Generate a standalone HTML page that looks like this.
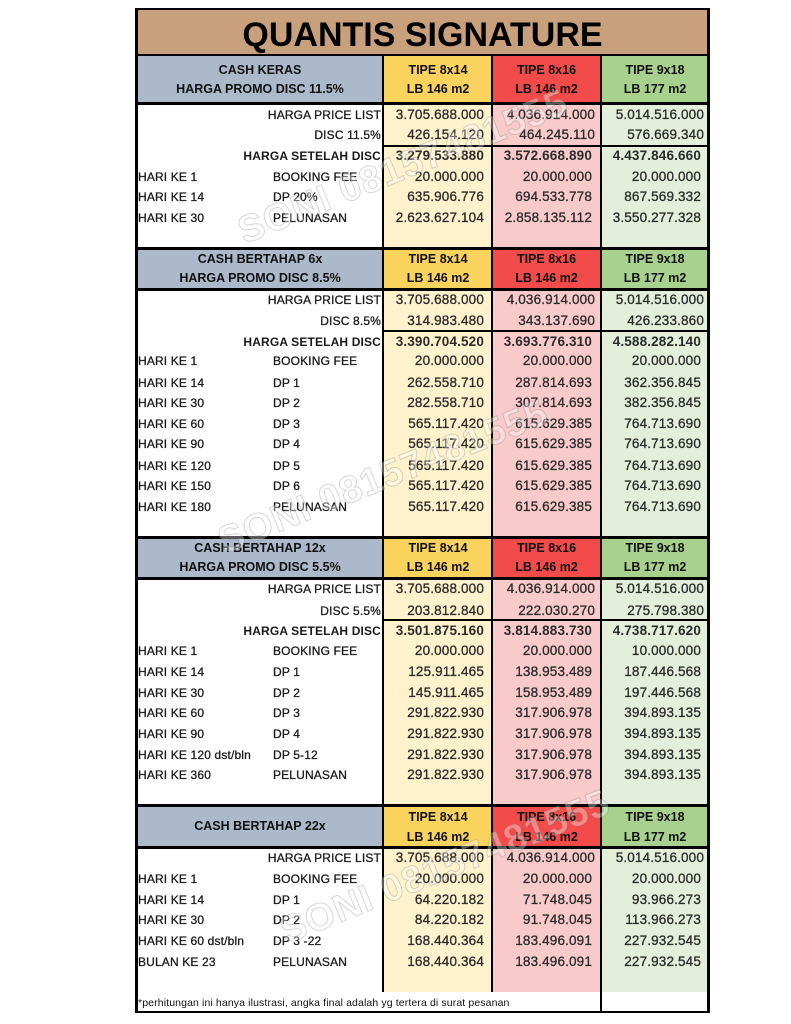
<!DOCTYPE html>
<html><head><meta charset="utf-8">
<style>
html,body{margin:0;padding:0;background:#fff;}
#c{position:relative;width:791px;height:1024px;overflow:hidden;background:#fff;font-family:"Liberation Sans",Arial,sans-serif;}
.a{position:absolute;}
.k{position:absolute;background:#000;}
.t{position:absolute;white-space:nowrap;height:20px;line-height:20px;}
.l{font-size:12px;color:#1a1a1a;letter-spacing:0.15px;-webkit-text-stroke:0.3px #1a1a1a;}
.l1{left:138px;}
.l2{left:273px;}
.lr{left:136px;width:245px;text-align:right;}
.v{font-size:13.5px;color:#2b2b2b;text-align:right;letter-spacing:0.15px;-webkit-text-stroke:0.3px #2b2b2b;}
.y{left:384px;width:100px;}
.r{left:492px;width:100px;}
.r2{left:492px;width:103px;}
.g{left:601px;width:100px;}
.g2{left:601px;width:103px;}
.b{font-weight:bold;-webkit-text-stroke:0;}
.h{position:absolute;white-space:nowrap;height:20px;line-height:20px;font-size:12.5px;font-weight:bold;color:#111;text-align:center;}
.hl{left:136px;width:248px;}
.hy{left:384px;width:108px;}
.hr{left:492px;width:109px;}
.hg{left:601px;width:108px;}
.wm{position:absolute;white-space:nowrap;font-size:38px;font-weight:bold;line-height:38px;color:rgba(255,255,255,0.35);-webkit-text-stroke:1px rgba(110,110,110,0.28);transform-origin:0 50%;transform:rotate(-22deg);letter-spacing:1px;}
</style></head>
<body><div id="c">

<!-- column body backgrounds -->
<div class="a" style="left:384px;top:55px;width:108px;height:937px;background:#FFF2CC"></div>
<div class="a" style="left:492px;top:55px;width:109px;height:937px;background:#F9CACA"></div>
<div class="a" style="left:601px;top:55px;width:108px;height:937px;background:#E3EFDA"></div>

<!-- title -->
<div class="a" style="left:136px;top:9px;width:573px;height:46px;background:#C8A07C"></div>
<div class="a" style="left:136px;top:12px;width:573px;height:46px;line-height:46px;text-align:center;font-size:34px;font-weight:bold;color:#000;">QUANTIS SIGNATURE</div>

<!-- header backgrounds -->
<div class="a" style="left:136px;top:55px;width:248px;height:48px;background:#ACB9CA"></div>
<div class="a" style="left:384px;top:55px;width:108px;height:48px;background:#FAD35E"></div>
<div class="a" style="left:492px;top:55px;width:109px;height:48px;background:#F34A4A"></div>
<div class="a" style="left:601px;top:55px;width:108px;height:48px;background:#A9D18E"></div>

<div class="a" style="left:136px;top:248px;width:248px;height:42px;background:#ACB9CA"></div>
<div class="a" style="left:384px;top:248px;width:108px;height:42px;background:#FAD35E"></div>
<div class="a" style="left:492px;top:248px;width:109px;height:42px;background:#F34A4A"></div>
<div class="a" style="left:601px;top:248px;width:108px;height:42px;background:#A9D18E"></div>

<div class="a" style="left:136px;top:537px;width:248px;height:42px;background:#ACB9CA"></div>
<div class="a" style="left:384px;top:537px;width:108px;height:42px;background:#FAD35E"></div>
<div class="a" style="left:492px;top:537px;width:109px;height:42px;background:#F34A4A"></div>
<div class="a" style="left:601px;top:537px;width:108px;height:42px;background:#A9D18E"></div>

<div class="a" style="left:136px;top:805px;width:248px;height:43px;background:#ACB9CA"></div>
<div class="a" style="left:384px;top:805px;width:108px;height:43px;background:#FAD35E"></div>
<div class="a" style="left:492px;top:805px;width:109px;height:43px;background:#F34A4A"></div>
<div class="a" style="left:601px;top:805px;width:108px;height:43px;background:#A9D18E"></div>

<!-- lines -->
<div class="k" style="left:135px;top:8px;width:575px;height:2px"></div>
<div class="k" style="left:135px;top:1011px;width:575px;height:2px"></div>
<div class="k" style="left:135px;top:8px;width:3px;height:1005px"></div>
<div class="k" style="left:707px;top:8px;width:3px;height:1005px"></div>
<div class="k" style="left:135px;top:54px;width:575px;height:2px"></div>

<div class="k" style="left:135px;top:102px;width:575px;height:3px"></div>
<div class="k" style="left:383px;top:145px;width:326px;height:2px"></div>
<div class="k" style="left:135px;top:247px;width:575px;height:3px"></div>
<div class="k" style="left:135px;top:288px;width:575px;height:3px"></div>
<div class="k" style="left:383px;top:330px;width:326px;height:2px"></div>
<div class="k" style="left:135px;top:536px;width:575px;height:3px"></div>
<div class="k" style="left:135px;top:577px;width:575px;height:3px"></div>
<div class="k" style="left:383px;top:619px;width:326px;height:2px"></div>
<div class="k" style="left:135px;top:804px;width:575px;height:3px"></div>
<div class="k" style="left:135px;top:846px;width:575px;height:3px"></div>

<div class="k" style="left:382px;top:55px;width:2px;height:937px"></div>
<div class="k" style="left:491px;top:55px;width:2px;height:937px"></div>
<div class="k" style="left:600px;top:55px;width:2px;height:957px"></div>

<!-- SECTION 1 -->
<div class="h hl" style="top:60px">CASH KERAS</div>
<div class="h hl" style="top:79px">HARGA PROMO DISC 11.5%</div>
<div class="h hy" style="top:60px">TIPE 8x14</div>
<div class="h hy" style="top:79px">LB 146 m2</div>
<div class="h hr" style="top:60px">TIPE 8x16</div>
<div class="h hr" style="top:79px">LB 146 m2</div>
<div class="h hg" style="top:60px">TIPE 9x18</div>
<div class="h hg" style="top:79px">LB 177 m2</div>

<div class="t l lr" style="top:105px">HARGA PRICE LIST</div>
<div class="t v y" style="top:105px">3.705.688.000</div>
<div class="t v r2" style="top:105px">4.036.914.000</div>
<div class="t v g2" style="top:105px">5.014.516.000</div>

<div class="t l lr" style="top:125px">DISC 11.5%</div>
<div class="t v y" style="top:125px">426.154.120</div>
<div class="t v r2" style="top:125px">464.245.110</div>
<div class="t v g2" style="top:125px">576.669.340</div>

<div class="t l lr b" style="top:146px">HARGA SETELAH DISC</div>
<div class="t v y b" style="top:146px">3.279.533.880</div>
<div class="t v r b" style="top:146px">3.572.668.890</div>
<div class="t v g b" style="top:146px">4.437.846.660</div>

<div class="t l l1" style="top:167px">HARI KE 1</div>
<div class="t l l2" style="top:167px">BOOKING FEE</div>
<div class="t v y" style="top:167px">20.000.000</div>
<div class="t v r" style="top:167px">20.000.000</div>
<div class="t v g" style="top:167px">20.000.000</div>

<div class="t l l1" style="top:187px">HARI KE 14</div>
<div class="t l l2" style="top:187px">DP 20%</div>
<div class="t v y" style="top:187px">635.906.776</div>
<div class="t v r" style="top:187px">694.533.778</div>
<div class="t v g" style="top:187px">867.569.332</div>

<div class="t l l1" style="top:208px">HARI KE 30</div>
<div class="t l l2" style="top:208px">PELUNASAN</div>
<div class="t v y" style="top:208px">2.623.627.104</div>
<div class="t v r" style="top:208px">2.858.135.112</div>
<div class="t v g" style="top:208px">3.550.277.328</div>

<!-- SECTION 2 -->
<div class="h hl" style="top:249px">CASH BERTAHAP 6x</div>
<div class="h hl" style="top:268px">HARGA PROMO DISC 8.5%</div>
<div class="h hy" style="top:249px">TIPE 8x14</div>
<div class="h hy" style="top:268px">LB 146 m2</div>
<div class="h hr" style="top:249px">TIPE 8x16</div>
<div class="h hr" style="top:268px">LB 146 m2</div>
<div class="h hg" style="top:249px">TIPE 9x18</div>
<div class="h hg" style="top:268px">LB 177 m2</div>

<div class="t l lr" style="top:290px">HARGA PRICE LIST</div>
<div class="t v y" style="top:290px">3.705.688.000</div>
<div class="t v r2" style="top:290px">4.036.914.000</div>
<div class="t v g2" style="top:290px">5.014.516.000</div>

<div class="t l lr" style="top:311px">DISC 8.5%</div>
<div class="t v y" style="top:311px">314.983.480</div>
<div class="t v r2" style="top:311px">343.137.690</div>
<div class="t v g2" style="top:311px">426.233.860</div>

<div class="t l lr b" style="top:332px">HARGA SETELAH DISC</div>
<div class="t v y b" style="top:332px">3.390.704.520</div>
<div class="t v r b" style="top:332px">3.693.776.310</div>
<div class="t v g b" style="top:332px">4.588.282.140</div>

<div class="t l l1" style="top:351px">HARI KE 1</div>
<div class="t l l2" style="top:351px">BOOKING FEE</div>
<div class="t v y" style="top:351px">20.000.000</div>
<div class="t v r" style="top:351px">20.000.000</div>
<div class="t v g" style="top:351px">20.000.000</div>

<div class="t l l1" style="top:373px">HARI KE 14</div>
<div class="t l l2" style="top:373px">DP 1</div>
<div class="t v y" style="top:373px">262.558.710</div>
<div class="t v r" style="top:373px">287.814.693</div>
<div class="t v g" style="top:373px">362.356.845</div>

<div class="t l l1" style="top:393px">HARI KE 30</div>
<div class="t l l2" style="top:393px">DP 2</div>
<div class="t v y" style="top:393px">282.558.710</div>
<div class="t v r" style="top:393px">307.814.693</div>
<div class="t v g" style="top:393px">382.356.845</div>

<div class="t l l1" style="top:414px">HARI KE 60</div>
<div class="t l l2" style="top:414px">DP 3</div>
<div class="t v y" style="top:414px">565.117.420</div>
<div class="t v r" style="top:414px">615.629.385</div>
<div class="t v g" style="top:414px">764.713.690</div>

<div class="t l l1" style="top:434px">HARI KE 90</div>
<div class="t l l2" style="top:434px">DP 4</div>
<div class="t v y" style="top:434px">565.117.420</div>
<div class="t v r" style="top:434px">615.629.385</div>
<div class="t v g" style="top:434px">764.713.690</div>

<div class="t l l1" style="top:456px">HARI KE 120</div>
<div class="t l l2" style="top:456px">DP 5</div>
<div class="t v y" style="top:456px">565.117.420</div>
<div class="t v r" style="top:456px">615.629.385</div>
<div class="t v g" style="top:456px">764.713.690</div>

<div class="t l l1" style="top:476px">HARI KE 150</div>
<div class="t l l2" style="top:476px">DP 6</div>
<div class="t v y" style="top:476px">565.117.420</div>
<div class="t v r" style="top:476px">615.629.385</div>
<div class="t v g" style="top:476px">764.713.690</div>

<div class="t l l1" style="top:497px">HARI KE 180</div>
<div class="t l l2" style="top:497px">PELUNASAN</div>
<div class="t v y" style="top:497px">565.117.420</div>
<div class="t v r" style="top:497px">615.629.385</div>
<div class="t v g" style="top:497px">764.713.690</div>

<!-- SECTION 3 -->
<div class="h hl" style="top:538px">CASH BERTAHAP 12x</div>
<div class="h hl" style="top:557px">HARGA PROMO DISC 5.5%</div>
<div class="h hy" style="top:538px">TIPE 8x14</div>
<div class="h hy" style="top:557px">LB 146 m2</div>
<div class="h hr" style="top:538px">TIPE 8x16</div>
<div class="h hr" style="top:557px">LB 146 m2</div>
<div class="h hg" style="top:538px">TIPE 9x18</div>
<div class="h hg" style="top:557px">LB 177 m2</div>

<div class="t l lr" style="top:579px">HARGA PRICE LIST</div>
<div class="t v y" style="top:579px">3.705.688.000</div>
<div class="t v r2" style="top:579px">4.036.914.000</div>
<div class="t v g2" style="top:579px">5.014.516.000</div>

<div class="t l lr" style="top:601px">DISC 5.5%</div>
<div class="t v y" style="top:601px">203.812.840</div>
<div class="t v r2" style="top:601px">222.030.270</div>
<div class="t v g2" style="top:601px">275.798.380</div>

<div class="t l lr b" style="top:621px">HARGA SETELAH DISC</div>
<div class="t v y b" style="top:621px">3.501.875.160</div>
<div class="t v r b" style="top:621px">3.814.883.730</div>
<div class="t v g b" style="top:621px">4.738.717.620</div>

<div class="t l l1" style="top:641px">HARI KE 1</div>
<div class="t l l2" style="top:641px">BOOKING FEE</div>
<div class="t v y" style="top:641px">20.000.000</div>
<div class="t v r" style="top:641px">20.000.000</div>
<div class="t v g" style="top:641px">10.000.000</div>

<div class="t l l1" style="top:662px">HARI KE 14</div>
<div class="t l l2" style="top:662px">DP 1</div>
<div class="t v y" style="top:662px">125.911.465</div>
<div class="t v r" style="top:662px">138.953.489</div>
<div class="t v g" style="top:662px">187.446.568</div>

<div class="t l l1" style="top:683px">HARI KE 30</div>
<div class="t l l2" style="top:683px">DP 2</div>
<div class="t v y" style="top:683px">145.911.465</div>
<div class="t v r" style="top:683px">158.953.489</div>
<div class="t v g" style="top:683px">197.446.568</div>

<div class="t l l1" style="top:703px">HARI KE 60</div>
<div class="t l l2" style="top:703px">DP 3</div>
<div class="t v y" style="top:703px">291.822.930</div>
<div class="t v r" style="top:703px">317.906.978</div>
<div class="t v g" style="top:703px">394.893.135</div>

<div class="t l l1" style="top:724px">HARI KE 90</div>
<div class="t l l2" style="top:724px">DP 4</div>
<div class="t v y" style="top:724px">291.822.930</div>
<div class="t v r" style="top:724px">317.906.978</div>
<div class="t v g" style="top:724px">394.893.135</div>

<div class="t l l1" style="top:745px">HARI KE 120 dst/bln</div>
<div class="t l l2" style="top:745px">DP 5-12</div>
<div class="t v y" style="top:745px">291.822.930</div>
<div class="t v r" style="top:745px">317.906.978</div>
<div class="t v g" style="top:745px">394.893.135</div>

<div class="t l l1" style="top:765px">HARI KE 360</div>
<div class="t l l2" style="top:765px">PELUNASAN</div>
<div class="t v y" style="top:765px">291.822.930</div>
<div class="t v r" style="top:765px">317.906.978</div>
<div class="t v g" style="top:765px">394.893.135</div>

<!-- SECTION 4 -->
<div class="h hl" style="top:816px">CASH BERTAHAP 22x</div>
<div class="h hy" style="top:807px">TIPE 8x14</div>
<div class="h hy" style="top:827px">LB 146 m2</div>
<div class="h hr" style="top:807px">TIPE 8x16</div>
<div class="h hr" style="top:827px">LB 146 m2</div>
<div class="h hg" style="top:807px">TIPE 9x18</div>
<div class="h hg" style="top:827px">LB 177 m2</div>

<div class="t l lr" style="top:848px">HARGA PRICE LIST</div>
<div class="t v y" style="top:848px">3.705.688.000</div>
<div class="t v r2" style="top:848px">4.036.914.000</div>
<div class="t v g2" style="top:848px">5.014.516.000</div>

<div class="t l l1" style="top:869px">HARI KE 1</div>
<div class="t l l2" style="top:869px">BOOKING FEE</div>
<div class="t v y" style="top:869px">20.000.000</div>
<div class="t v r" style="top:869px">20.000.000</div>
<div class="t v g" style="top:869px">20.000.000</div>

<div class="t l l1" style="top:890px">HARI KE 14</div>
<div class="t l l2" style="top:890px">DP 1</div>
<div class="t v y" style="top:890px">64.220.182</div>
<div class="t v r" style="top:890px">71.748.045</div>
<div class="t v g" style="top:890px">93.966.273</div>

<div class="t l l1" style="top:910px">HARI KE 30</div>
<div class="t l l2" style="top:910px">DP 2</div>
<div class="t v y" style="top:910px">84.220.182</div>
<div class="t v r" style="top:910px">91.748.045</div>
<div class="t v g" style="top:910px">113.966.273</div>

<div class="t l l1" style="top:931px">HARI KE 60 dst/bln</div>
<div class="t l l2" style="top:931px">DP 3 -22</div>
<div class="t v y" style="top:931px">168.440.364</div>
<div class="t v r" style="top:931px">183.496.091</div>
<div class="t v g" style="top:931px">227.932.545</div>

<div class="t l l1" style="top:952px">BULAN KE 23</div>
<div class="t l l2" style="top:952px">PELUNASAN</div>
<div class="t v y" style="top:952px">168.440.364</div>
<div class="t v r" style="top:952px">183.496.091</div>
<div class="t v g" style="top:952px">227.932.545</div>

<!-- footnote -->
<div class="t" style="left:138px;top:993px;font-size:10.5px;letter-spacing:0.12px;color:#111;">*perhitungan ini hanya ilustrasi, angka final adalah yg tertera di surat pesanan</div>

<!-- watermarks -->
<div class="wm" style="left:240px;top:214px;">SONI 08157481555</div>
<div class="wm" style="left:220px;top:524px;">SONI 08157481555</div>
<div class="wm" style="left:282px;top:914px;">SONI 08157481555</div>

</div></body></html>
